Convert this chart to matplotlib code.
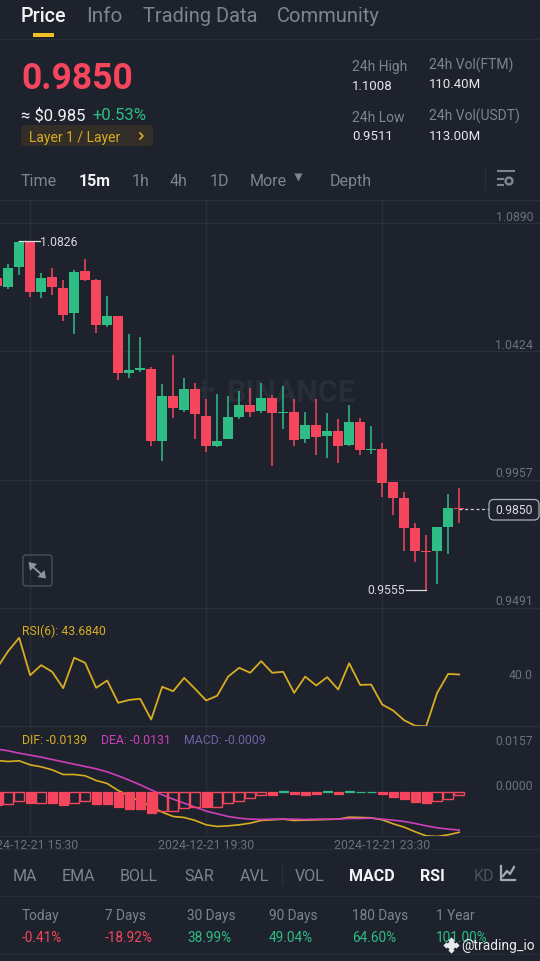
import numpy as np
import matplotlib
matplotlib.use('Agg')
import matplotlib.pyplot as plt
from matplotlib.patches import FancyBboxPatch

plt.rcParams['font.family'] = ['Roboto', 'DejaVu Sans']

BG = '#1d222c'
GRID = '#2a303a'
RED = '#f6465d'
GREEN = '#2ebd85'
GRAY = '#7d8591'
AXGRAY = '#6b727d'
YELLOW = '#d8ad22'
PINK = '#cf3fbd'

opens = [1.0692, 1.0659, 1.0731, 1.0822, 1.0640, 1.0696, 1.0656, 1.0565, 1.0717, 1.0683, 1.0520, 1.0552, 1.0345,
         1.0357, 1.0360, 1.0099, 1.0261, 1.0212, 1.0288, 1.0189, 1.0079, 1.0104, 1.0186, 1.0229, 1.0206, 1.0255,
         1.0198, 1.0205, 1.0104, 1.0157, 1.0115, 1.0133, 1.0084, 1.0166, 1.0066, 1.0070, 0.9948, 0.9889, 0.9780,
         0.9698, 0.9697, 0.9786, 0.9854]
highs = [1.0704, 1.0744, 1.0826, 1.0824, 1.0708, 1.0727, 1.0683, 1.0719, 1.0759, 1.0687, 1.0626, 1.0553, 1.0488,
         1.0476, 1.0368, 1.0306, 1.0411, 1.0328, 1.0308, 1.0249, 1.0270, 1.0261, 1.0280, 1.0291, 1.0308, 1.0264,
         1.0298, 1.0252, 1.0204, 1.0249, 1.0198, 1.0176, 1.0227, 1.0183, 1.0152, 1.0092, 0.9950, 0.9910, 0.9800,
         0.9754, 0.9786, 0.9903, 0.9928]
lows = [1.0656, 1.0652, 1.0704, 1.0623, 1.0618, 1.0629, 1.0535, 1.0486, 1.0680, 1.0490, 1.0513, 1.0321, 1.0327,
        1.0350, 1.0078, 1.0025, 1.0183, 1.0203, 1.0106, 1.0059, 1.0077, 1.0104, 1.0179, 1.0186, 1.0201, 1.0007,
        1.0140, 1.0079, 1.0089, 1.0047, 1.0037, 1.0018, 1.0078, 1.0047, 1.0049, 0.9894, 0.9828, 0.9697, 0.9657,
        0.9555, 0.9576, 0.9687, 0.9800]
closes = [1.0662, 1.0729, 1.0822, 1.0641, 1.0693, 1.0657, 1.0558, 1.0715, 1.0685, 1.0520, 1.0553, 1.0345, 1.0357,
          1.0362, 1.0098, 1.0261, 1.0217, 1.0286, 1.0197, 1.0081, 1.0099, 1.0186, 1.0230, 1.0202, 1.0253, 1.0200,
          1.0204, 1.0101, 1.0155, 1.0111, 1.0135, 1.0081, 1.0166, 1.0065, 1.0070, 0.9944, 0.9889, 0.9782, 0.9698,
          0.9694, 0.9786, 0.9852, 0.9850]

rsi = [47.2, 56.0, 63.0, 43.3, 48.6, 45.1, 36.5, 52.5, 49.8, 36.7, 40.5, 28.8, 30.3, 30.9, 20.0, 37.2, 34.9, 41.9,
       36.1, 30.0, 32.5, 42.6, 47.2, 44.6, 50.7, 44.6, 45.1, 34.0, 42.6, 37.9, 42.3, 35.8, 49.6, 38.2, 38.4, 27.9,
       24.7, 19.6, 16.7, 16.5, 34.0, 44.0, 43.68]

dif = [.01116, .01082, .01105, .00965, .00896, .00791, .00628, .00628, .00582, .00419, .00314, .00070, -.00116,
       -.00314, -.00488, -.00686, -.00837, -.00872, -.00977, -.01128, -.01186, -.01163, -.01128, -.01070, -.00977,
       -.00954, -.00930, -.00977, -.00965, -.00954, -.00942, -.00930, -.00861, -.00872, -.00884, -.00954, -.01093,
       -.01210, -.01372, -.01512, -.01535, -.01477, -.01390]
dea = [.01512, .01454, .01372, .01303, .01233, .01151, .01070, .00989, .00907, .00826, .00721, .00582, .00430,
       .00267, .00093, -.00081, -.00233, -.00372, -.00512, -.00651, -.00744, -.00837, -.00896, -.00930, -.00942,
       -.00930, -.00930, -.00930, -.00942, -.00930, -.00930, -.00930, -.00907, -.00907, -.00896, -.00930, -.00965,
       -.01012, -.01082, -.01163, -.01233, -.01279, -.01310]
hist = [-.0043, -.0040, -.0029, -.0035, -.0035, -.0035, -.0043, -.0035, -.0031, -.0040, -.0040, -.0052, -.0058,
        -.0058, -.0072, -.0066, -.0064, -.0055, -.0049, -.0049, -.0049, -.0037, -.0028, -.0020, -.0009, -.0009,
        .0006, -.0005, -.0009, -.0006, .0006, -.0007, .0006, .0002, .0002, -.0007, -.0014, -.0023, -.0034, -.0037,
        -.0031, -.0022, -.0009]
hollow = [1, 2, 4, 7, 8, 15, 16, 17, 18, 20, 21, 22, 23, 24, 40, 41, 42]

price_ticks = [1.0890, 1.0424, 0.9957, 0.9491]
date_idx = [3, 19, 35]
date_labels = ['2024-12-21 15:30', '2024-12-21 19:30', '2024-12-21 23:30']

# candle 0 sits at x=-3.33px and they are 11px apart
xmin = (3.33 - 0.5) / 11
xmax = (540 + 3.33 - 0.5) / 11


def make_ax(top, bottom):
    top += 0.5
    bottom += 0.5
    a = fig.add_axes([0, 1 - bottom / 962, 1, (bottom - top) / 962])
    a.set_facecolor('none')
    a.set_xlim(xmin, xmax)
    a.set_xticks(date_idx)
    a.tick_params(length=0, labelbottom=False, labelleft=False)
    a.grid(True, color=GRID, lw=0.9)
    a.set_axisbelow(True)
    for s in a.spines.values():
        s.set_visible(False)
    a.spines['top'].set_visible(True)
    a.spines['top'].set_color(GRID)
    a.spines['top'].set_linewidth(0.9)
    return a


def right_label(a, v, txt, dy=5.0):
    a.annotate(txt, xy=(1, v), xycoords=a.get_yaxis_transform(), xytext=(-5, dy), textcoords='offset points',
               ha='right', va='center', color=AXGRAY, fontsize=8.8)


def logo(a, x, y, s, c, zorder=1):
    a.scatter([x], [y], marker='D', s=s * s * 0.55, color=c, lw=0, zorder=zorder)
    off = s * 0.62
    for dx, dy in [(-off, 0), (off, 0), (0, -off), (0, off)]:
        a.scatter([x + dx], [y + dy], marker='D', s=s * s * 0.16, color=c, lw=0, zorder=zorder)


fig = plt.figure(figsize=(5.4, 9.62), dpi=100, facecolor=BG)

ax = make_ax(200, 608)
ax.set_ylim(0.9491, 1.09774)
ax.set_yticks(price_ticks)
ax2 = make_ax(608, 726)
ax2.set_ylim(16.84, 78.95)
ax2.set_yticks([])
ax3 = make_ax(726, 836)
ax3.set_ylim(-.01501, .02338)
ax3.set_yticks([])
ax3.spines['bottom'].set_visible(True)
ax3.spines['bottom'].set_color(GRID)
ax3.spines['bottom'].set_linewidth(0.9)
ax3.tick_params(labelbottom=True, labelcolor=AXGRAY, labelsize=8.9, pad=1.5)
ax3.set_xticklabels(date_labels)

# full figure overlay in pixel coords for the app chrome
ui = fig.add_axes([0, 0, 1, 1])
ui.set_xlim(0, 540)
ui.set_ylim(962, 0)
ui.axis('off')
ui.patch.set_alpha(0)

# watermark
ax.text(291, 393, 'BINANCE', transform=ui.transData, ha='center', va='center', color='#282e38', fontsize=22,
        fontweight='bold', zorder=1)
for dx, dy, sz in [(0, 0, 28), (-7, 0, 10), (7, 0, 10), (0, -7, 10), (0, 7, 10)]:
    ax.scatter([204 + dx], [390 + dy], marker='D', s=sz, color='#282e38', lw=0, zorder=1, transform=ui.transData)

idx = np.arange(len(opens))
for i in idx:
    col = GREEN if closes[i] >= opens[i] else RED
    ax.vlines(i, lows[i], highs[i], color=col, lw=1.3, alpha=0.85, zorder=3)
    ax.bar(i, abs(closes[i] - opens[i]), bottom=min(opens[i], closes[i]), width=0.88, color=col, lw=0, zorder=3)

for t in price_ticks:
    right_label(ax, t, '%.4f' % t)

# high / low / last markers
ax.plot([2, 3.85], [highs[2], highs[2]], color='#d8dbe0', lw=0.9, zorder=4)
ax.annotate('1.0826', xy=(3.88, highs[2]), ha='left', va='center', color='#d8dbe0', fontsize=8.8, zorder=5)
ax.plot([37.15, 39], [lows[39], lows[39]], color='#d8dbe0', lw=0.9, zorder=4)
ax.annotate('0.9555', xy=(37.1, lows[39]), ha='right', va='center', color='#d8dbe0', fontsize=8.8, zorder=5)
ax.plot([42, 46.8], [closes[42], closes[42]], color='#c8ccd2', lw=0.9, ls=(0, (2.5, 2)), zorder=4)
ui.add_patch(FancyBboxPatch((489, 500.5), 50, 20.5, boxstyle='round,pad=0,rounding_size=5', fc=BG, ec='#aab0b8', lw=0.9))
ui.text(514, 511, '0.9850', ha='center', va='center', color='#d8dbe0', fontsize=8.8)

ax2.plot(idx, rsi, color=YELLOW, lw=1.3, clip_on=False)
right_label(ax2, 40, '40.0')

ax3.plot(idx, dif, color=YELLOW, lw=1.2, zorder=3)
ax3.plot(idx, dea, color=PINK, lw=1.2, zorder=3)
for i in idx:
    col = GREEN if hist[i] > 0 else RED
    if i in hollow:
        ax3.bar(i, hist[i], width=0.88, facecolor='none', edgecolor=col, lw=1.0, zorder=4)
    else:
        # edge keeps the tiny bars visible
        ax3.bar(i, hist[i], width=0.84, color=col, edgecolor=col, lw=0.9, zorder=4)
right_label(ax3, .0157, '0.0157')
right_label(ax3, 0, '0.0000')

ui.text(22, 631, 'RSI(6): 43.6840', color=YELLOW, fontsize=8.8, va='center')
ui.text(22, 741, 'DIF: -0.0139', color=YELLOW, fontsize=8.8, va='center')
ui.text(101, 741, 'DEA: -0.0131', color=PINK, fontsize=8.8, va='center')
ui.text(184, 741, 'MACD: -0.0009', color='#6f62a8', fontsize=8.8, va='center')

# top tabs
ui.text(21, 16.5, 'Price', color='#f2f3f5', fontsize=14.2, fontweight='medium', va='center')
ui.text(86, 16.5, 'Info', color=GRAY, fontsize=15, va='center')
ui.text(143, 16.5, 'Trading Data', color=GRAY, fontsize=14.4, va='center')
ui.text(277, 16.5, 'Community', color=GRAY, fontsize=14.5, va='center')
ui.fill_between([33, 54], 34, 38, color='#f0c020', lw=0)
ui.plot([0, 540], [39.5, 39.5], color='#272d37', lw=0.9)

ui.text(21, 79, '0.9850', color=RED, fontsize=25.6, fontweight='bold', va='center')
ui.text(21, 116, '≈ $0.985', color='#f2f3f5', fontsize=12, va='center')
ui.text(92, 116, '+0.53%', color=GREEN, fontsize=12, va='center')
ui.add_patch(FancyBboxPatch((21, 126), 132, 21, boxstyle='round,pad=0,rounding_size=4', fc='#332e27', lw=0))
ui.text(29, 138, 'Layer 1 / Layer', color=YELLOW, fontsize=10, va='center')
ui.plot([140, 143, 140], [134, 137, 140], color=YELLOW, lw=1.2)

for x, y, s in [(352, 66.5, '24h High'), (429, 65.5, '24h Vol(FTM)'), (352, 117.5, '24h Low'), (429, 116.5, '24h Vol(USDT)')]:
    ui.text(x, y, s, color=GRAY, fontsize=10, va='center')
for x, y, s in [(352, 86, '1.1008'), (429, 85, '110.40M'), (352, 137, '0.9511'), (429, 136, '113.00M')]:
    ui.text(x, y, s, color='#e4e6ea', fontsize=9.5, va='center')

for x, s in [(21, 'Time'), (132, '1h'), (170, '4h'), (210, '1D'), (250, 'More'), (330, 'Depth')]:
    ui.text(x, 181.5, s, color=GRAY, fontsize=11.5, va='center')
ui.text(79, 181.5, '15m', color='#f2f3f5', fontsize=11.5, fontweight='bold', va='center')
ui.scatter([298], [178], marker='v', s=34, color=GRAY, lw=0)
ui.plot([485, 485], [170, 190], color='#2a303a', lw=0.9)
# settings icon
ui.plot([498, 514], [171.5, 171.5], color=GRAY, lw=1.5)
ui.plot([498, 503], [180, 180], color=GRAY, lw=1.5)
ui.plot([498, 503], [185.5, 185.5], color=GRAY, lw=1.5)
ui.scatter([509], [182], s=24, facecolor='none', edgecolor=GRAY, lw=1.8)

# expand button
ui.add_patch(FancyBboxPatch((23, 556), 29, 31, boxstyle='round,pad=0,rounding_size=3', fc='none', ec='#4a505a', lw=1.0))
ui.plot([33, 42], [568, 576], color='#8f959d', lw=1.4)
ui.fill([28.5, 37, 30], [563, 565, 572], color='#8f959d', lw=0)
ui.fill([46, 37.5, 44.5], [579.5, 578, 571], color='#8f959d', lw=0)

# indicator row
ui.plot([0, 540], [850, 850], color='#272d37', lw=0.9)
ui.plot([0, 540], [897, 897], color='#272d37', lw=0.9)
ui.plot([0, 540], [955, 955], color='#272d37', lw=0.9)
for x, s in [(13, 'MA'), (62, 'EMA'), (120, 'BOLL'), (184, 'SAR'), (240, 'AVL'), (295, 'VOL')]:
    ui.text(x, 876.5, s, color=GRAY, fontsize=11.5, va='center')
ui.text(474, 876.5, 'KD', color='#4c525c', fontsize=11.5, va='center')
ui.text(349, 876.5, 'MACD', color='#f2f3f5', fontsize=11.5, fontweight='bold', va='center')
ui.text(420, 876.5, 'RSI', color='#f2f3f5', fontsize=11.5, fontweight='bold', va='center')
ui.plot([282, 282], [865, 885], color='#2a303a', lw=0.9)
ui.plot([501, 501, 515], [867, 881, 881], color='#a4aab2', lw=1.6)
ui.plot([503, 507, 510, 514], [877, 872, 875, 868], color='#a4aab2', lw=1.6)

# returns row
periods = ['Today', '7 Days', '30 Days', '90 Days', '180 Days', '1 Year']
returns = ['-0.41%', '-18.92%', '38.99%', '49.04%', '64.60%', '101.00%']
period_x = [22, 105, 187, 269, 352, 436]
for x, p, r in zip(period_x, periods, returns):
    ui.text(x, 916.5, p, color=GRAY, fontsize=9.8, va='center')
    ui.text(x, 938.5, r, color=RED if r.startswith('-') else GREEN, fontsize=9.8, va='center')

logo(ui, 451, 946, 8, '#e8eaed', zorder=5)
ui.text(461, 946, '@trading_io', color='#e8eaed', fontsize=10, va='center', zorder=5)

fig.savefig('out.png', dpi=100, facecolor=BG)
